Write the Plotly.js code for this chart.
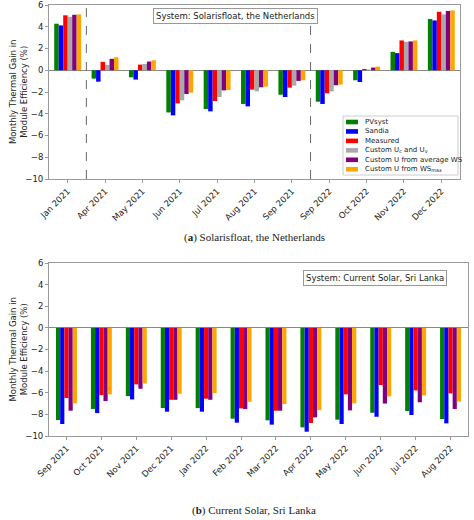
<!DOCTYPE html>
<html><head><meta charset="utf-8">
<script src="https://cdn.plot.ly/plotly-3.0.1.min.js"></script>
<style>html,body{margin:0;padding:0;background:#fff;} #chart{width:474px;height:520px;}</style>
</head><body><div id="chart"></div>
<script>
// ---- series definitions ----
const seriesNames = ['PVsyst', 'Sandia', 'Measured', 'Custom U<sub>c</sub> and U<sub>v</sub>', 'Custom U from average WS', 'Custom U from WS<sub>max</sub>'];
const seriesColors = ['#008000', '#0000ff', '#ff0000', '#a9a9a9', '#800080', '#ffa500'];

// ---- (a) Solarisfloat, the Netherlands ----
const nlMonths = ['Jan 2021', 'Apr 2021', 'May 2021', 'Jun 2021', 'Jul 2021', 'Aug 2021', 'Sep 2021', 'Sep 2022', 'Oct 2022', 'Nov 2022', 'Dec 2022'];
const nlPVsyst     = [4.28, -0.77, -0.65, -3.88, -3.57, -3.10, -2.25, -2.89, -0.92, 1.69, 4.71];
const nlSandia     = [4.12, -1.05, -0.86, -4.15, -3.78, -3.32, -2.46, -3.10, -1.08, 1.57, 4.58];
const nlMeasured   = [5.05, 0.77, 0.52, -3.05, -2.83, -1.78, -1.60, -2.12, 0.12, 2.74, 5.38];
const nlCustomUcUv = [4.92, 0.50, 0.58, -2.77, -2.46, -1.94, -1.42, -1.94, 0.06, 2.62, 5.14];
const nlCustomUavg = [5.10, 1.05, 0.80, -2.18, -1.85, -1.57, -0.98, -1.38, 0.25, 2.65, 5.45];
const nlCustomUmax = [5.14, 1.20, 0.92, -2.06, -1.82, -1.51, -0.92, -1.32, 0.34, 2.74, 5.50];

// ---- (b) Current Solar, Sri Lanka ----
const slMonths = ['Sep 2021', 'Oct 2021', 'Nov 2021', 'Dec 2021', 'Jan 2022', 'Feb 2022', 'Mar 2022', 'Apr 2022', 'May 2022', 'Jun 2022', 'Jul 2022', 'Aug 2022'];
const slPVsyst     = [-8.52, -7.50, -6.31, -7.42, -7.42, -8.40, -8.55, -9.20, -8.49, -7.85, -7.69, -8.43];
const slSandia     = [-8.89, -7.88, -6.62, -7.75, -7.75, -8.77, -8.95, -9.60, -8.89, -8.22, -8.06, -8.83];
const slMeasured   = [-6.49, -6.22, -5.23, -6.65, -6.55, -7.45, -7.66, -8.80, -6.15, -5.29, -5.78, -6.06];
const slCustomUavg = [-7.66, -6.77, -5.63, -6.65, -6.65, -7.50, -7.66, -8.28, -7.63, -7.00, -6.88, -7.50];
const slCustomUmax = [-6.98, -6.15, -5.14, -6.09, -6.03, -6.83, -7.05, -7.60, -6.98, -6.34, -6.25, -6.80];

const yTickVals = [-10, -8, -6, -4, -2, 0, 2, 4, 6];
const yTitleText = 'Monthly Thermal Gain in<br>Module Efficiency (%)';

// ---- build ----
const W = 474, H = 520;
const BW = 0.12;
const traces = [];

function addGroup(months, seriesList, xa, ya) {
  const n = seriesList.length;
  seriesList.forEach((s, i) => {
    traces.push({
      type: 'bar', x: months, y: s.values, xaxis: xa, yaxis: ya,
      width: BW, offset: -n * BW / 2 + i * BW,
      marker: {color: seriesColors[s.idx], line: {width: 0}},
      name: seriesNames[s.idx], showlegend: false, hoverinfo: 'skip'
    });
  });
}
addGroup(nlMonths, [
  {idx: 0, values: nlPVsyst}, {idx: 1, values: nlSandia}, {idx: 2, values: nlMeasured},
  {idx: 3, values: nlCustomUcUv}, {idx: 4, values: nlCustomUavg}, {idx: 5, values: nlCustomUmax}
], 'x', 'y');
addGroup(slMonths, [
  {idx: 0, values: slPVsyst}, {idx: 1, values: slSandia}, {idx: 2, values: slMeasured},
  {idx: 4, values: slCustomUavg}, {idx: 5, values: slCustomUmax}
], 'x2', 'y2');

// dividers where the month sequence is not consecutive
const monIdx = {Jan:0, Feb:1, Mar:2, Apr:3, May:4, Jun:5, Jul:6, Aug:7, Sep:8, Oct:9, Nov:10, Dec:11};
function mnum(s) { const [m, y] = s.split(' '); return (+y) * 12 + monIdx[m]; }
const shapes = [];
for (let i = 1; i < nlMonths.length; i++) {
  if (mnum(nlMonths[i]) - mnum(nlMonths[i - 1]) !== 1) {
    shapes.push({type: 'line', xref: 'x', yref: 'y domain', x0: i - 0.5, x1: i - 0.5, y0: 0, y1: 1,
      line: {color: '#666', width: 1, dash: 'dash'}});
  }
}

const axisCommon = {
  showline: true, mirror: true, linecolor: '#999', linewidth: 1,
  ticks: 'outside', ticklen: 3, tickcolor: '#999', showgrid: false,
  ticklabeloverflow: 'allow',
  tickfont: {family: 'DejaVu Sans', size: 8.5, color: '#222'}
};

const annotations = [
  {xref: 'paper', yref: 'paper', x: 18 / W, y: 1 - 92 / H, xanchor: 'center', yanchor: 'middle',
   text: yTitleText, textangle: -90, showarrow: false, font: {family: 'DejaVu Sans', size: 8.5, color: '#222'}},
  {xref: 'paper', yref: 'paper', x: 18 / W, y: 1 - 349.5 / H, xanchor: 'center', yanchor: 'middle',
   text: yTitleText, textangle: -90, showarrow: false, font: {family: 'DejaVu Sans', size: 8.5, color: '#222'}},
  {xref: 'paper', yref: 'paper', x: 235 / W, y: 1 - 15.5 / H, xanchor: 'center', yanchor: 'middle',
   text: 'System: Solarisfloat, the Netherlands',
   showarrow: false, bgcolor: '#fff', bordercolor: '#999', borderwidth: 1, borderpad: 2,
   font: {family: 'DejaVu Sans', size: 8.5, color: '#222'}},
  {xref: 'paper', yref: 'paper', x: 374.7 / W, y: 1 - 278 / H, xanchor: 'center', yanchor: 'middle',
   text: 'System: Current Solar, Sri Lanka',
   showarrow: false, bgcolor: '#fff', bordercolor: '#999', borderwidth: 1, borderpad: 2,
   font: {family: 'DejaVu Sans', size: 8.5, color: '#222'}},
  {xref: 'paper', yref: 'paper', x: 254 / W, y: 1 - 238 / H, xanchor: 'center', yanchor: 'middle',
   text: '(<b>a</b>) Solarisfloat, the Netherlands',
   showarrow: false, font: {family: 'Liberation Serif', size: 11, color: '#222'}},
  {xref: 'paper', yref: 'paper', x: 254 / W, y: 1 - 510 / H, xanchor: 'center', yanchor: 'middle',
   text: '(<b>b</b>) Current Solar, Sri Lanka',
   showarrow: false, font: {family: 'Liberation Serif', size: 11, color: '#222'}}
];

// legend (top panel)
const lgL = 343, lgR = 458, lgT = 116, lgB = 175;
shapes.push({type: 'rect', xref: 'paper', yref: 'paper', x0: lgL / W, x1: lgR / W, y0: 1 - lgB / H, y1: 1 - lgT / H,
  fillcolor: '#fff', line: {color: '#ccc', width: 1}, layer: 'above'});
seriesNames.forEach((nm, i) => {
  const yc = 122 + i * 9.45;
  shapes.push({type: 'rect', xref: 'paper', yref: 'paper', x0: 346 / W, x1: 358 / W,
    y0: 1 - (yc + 2.3) / H, y1: 1 - (yc - 2.3) / H, fillcolor: seriesColors[i], line: {width: 0}, layer: 'above'});
  annotations.push({xref: 'paper', yref: 'paper', x: 363 / W, y: 1 - yc / H, xanchor: 'left', yanchor: 'middle',
    text: nm, showarrow: false, font: {family: 'DejaVu Sans', size: 7, color: '#222'}});
});

const layout = {
  width: W, height: H, margin: {l: 0, r: 0, t: 0, b: 0},
  paper_bgcolor: '#fff', plot_bgcolor: '#fff', barmode: 'overlay', showlegend: false,
  font: {family: 'DejaVu Sans', size: 8.5, color: '#222'},
  xaxis: Object.assign({}, axisCommon, {domain: [49 / W, 460 / W], anchor: 'y', type: 'category',
    range: [-0.5, nlMonths.length - 0.5], tickangle: -45}),
  yaxis: Object.assign({}, axisCommon, {domain: [1 - 179 / H, 1 - 5 / H], anchor: 'x', range: [-10, 6],
    tickvals: yTickVals, zeroline: true, zerolinecolor: '#888', zerolinewidth: 1}),
  xaxis2: Object.assign({}, axisCommon, {domain: [49 / W, 468 / W], anchor: 'y2', type: 'category',
    range: [-0.5, slMonths.length - 0.5], tickangle: -45}),
  yaxis2: Object.assign({}, axisCommon, {domain: [1 - 436 / H, 1 - 263 / H], anchor: 'x2', range: [-10, 6],
    tickvals: yTickVals, zeroline: true, zerolinecolor: '#888', zerolinewidth: 1}),
  shapes: shapes, annotations: annotations
};

Plotly.newPlot('chart', traces, layout, {staticPlot: true, displayModeBar: false});
</script></body></html>
